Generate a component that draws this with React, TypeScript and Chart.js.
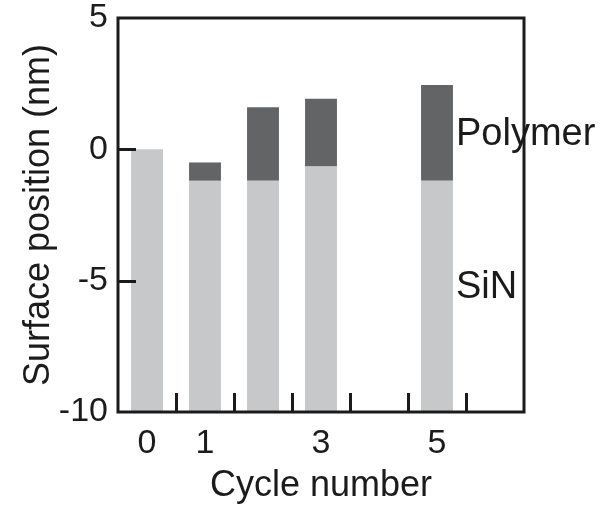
import React, { useEffect, useRef } from "react";
import { Chart, registerables } from "chart.js";

Chart.register(...registerables);

// ---- data ----
const cycles = ["0", "1", "2", "3", "4", "5", "6"];
const shownCycleLabels = ["0", "1", "3", "5"];
const baseLevel = -10;
const sinTop: (number | null)[] = [0, -1.2, -1.2, -0.65, null, -1.2, null];
const polymerTop: (number | null)[] = [null, -0.5, 1.6, 1.93, null, 2.45, null];
const yMin = -10;
const yMax = 5;
const yStep = 5;
const yTickMarks = [0, -5];
const polymerLabel = { text: "Polymer", cat: 5, y: 0.15 };
const sinLabel = { text: "SiN", cat: 5, y: -5.65 };

const FONT = "'Liberation Sans', Arial, Helvetica, sans-serif";
const INK = "#1b1b1b";
const SIN_COLOR = "#c7c8ca";
const POLY_COLOR = "#636466";

const framePlugin = {
  id: "framePlugin",
  afterDatasetsDraw(chart: any) {
    const { ctx, chartArea } = chart;
    const xs = chart.scales.x;
    const ys = chart.scales.y;
    ctx.save();
    // annotation texts
    ctx.fillStyle = INK;
    ctx.font = `38px ${FONT}`;
    ctx.textAlign = "left";
    ctx.textBaseline = "alphabetic";
    for (const lab of [polymerLabel, sinLabel]) {
      const x = xs.getPixelForValue(lab.cat) + 19;
      const y = ys.getPixelForValue(lab.y);
      ctx.fillText(lab.text, x, y);
    }
    // frame
    ctx.strokeStyle = INK;
    ctx.lineWidth = 3;
    ctx.strokeRect(
      chartArea.left,
      chartArea.top,
      chartArea.right - chartArea.left,
      chartArea.bottom - chartArea.top
    );
    // inward ticks on x (between categories)
    ctx.beginPath();
    for (let i = 0; i < cycles.length - 1; i++) {
      const px = (xs.getPixelForValue(i) + xs.getPixelForValue(i + 1)) / 2;
      ctx.moveTo(Math.round(px) + 0.5, chartArea.bottom);
      ctx.lineTo(Math.round(px) + 0.5, chartArea.bottom - 19);
    }
    // inward ticks on y
    for (const v of yTickMarks) {
      const py = ys.getPixelForValue(v);
      ctx.moveTo(chartArea.left, Math.round(py) + 0.5);
      ctx.lineTo(chartArea.left + 18, Math.round(py) + 0.5);
    }
    ctx.stroke();
    ctx.restore();
  },
};

export default function App() {
  const canvasRef = useRef<HTMLCanvasElement | null>(null);

  useEffect(() => {
    if (!canvasRef.current) return;
    const sinData = sinTop.map((v) => (v == null ? null : [baseLevel, v]));
    const polyData = polymerTop.map((v, i) =>
      v == null || sinTop[i] == null ? null : [sinTop[i] as number, v]
    );
    const chart = new Chart(canvasRef.current, {
      type: "bar",
      data: {
        labels: cycles,
        datasets: [
          {
            label: "SiN",
            data: sinData as any,
            backgroundColor: SIN_COLOR,
            borderWidth: 0,
            grouped: false,
            barPercentage: 0.55,
            categoryPercentage: 1,
          } as any,
          {
            label: "Polymer",
            data: polyData as any,
            backgroundColor: POLY_COLOR,
            borderWidth: 0,
            grouped: false,
            barPercentage: 0.55,
            categoryPercentage: 1,
          } as any,
        ],
      },
      options: {
        animation: false,
        responsive: false,
        devicePixelRatio: 1,
        layout: { padding: { top: 18, right: 76, left: 0, bottom: 0 } },
        plugins: {
          legend: { display: false },
          tooltip: { enabled: false },
        },
        scales: {
          x: {
            grid: { display: false, drawTicks: false },
            border: { display: false },
            ticks: {
              color: INK,
              font: { family: FONT, size: 34, lineHeight: 1 },
              padding: 15,
              maxRotation: 0,
              autoSkip: false,
              callback: (_v: any, i: number) =>
                shownCycleLabels.includes(cycles[i]) ? cycles[i] : "",
            },
            title: {
              display: true,
              text: "Cycle number",
              color: INK,
              font: { family: FONT, size: 36, lineHeight: 1 },
              padding: { top: 0, bottom: 4 },
            },
            afterFit: (s: any) => {
              s.height = 96;
              s.paddingLeft = 0;
              s.paddingRight = 0;
            },
          },
          y: {
            min: yMin,
            max: yMax,
            grid: { display: false, drawTicks: false },
            border: { display: false },
            ticks: {
              stepSize: yStep,
              color: INK,
              font: { family: FONT, size: 34, lineHeight: 1 },
              padding: 10,
            },
            title: {
              display: true,
              text: "Surface position (nm)",
              color: INK,
              font: { family: FONT, size: 36, lineHeight: 1 },
              padding: { top: 21, bottom: 0 },
            },
            afterFit: (s: any) => {
              s.width = 118;
              s.paddingTop = 0;
              s.paddingBottom = 0;
            },
          },
        },
      },
      plugins: [framePlugin],
    });
    return () => chart.destroy();
  }, []);

  return (
    <div style={{ position: "fixed", left: 0, top: 0, width: 600, height: 508, background: "#fff" }}>
      <canvas ref={canvasRef} width={600} height={508} />
    </div>
  );
}
